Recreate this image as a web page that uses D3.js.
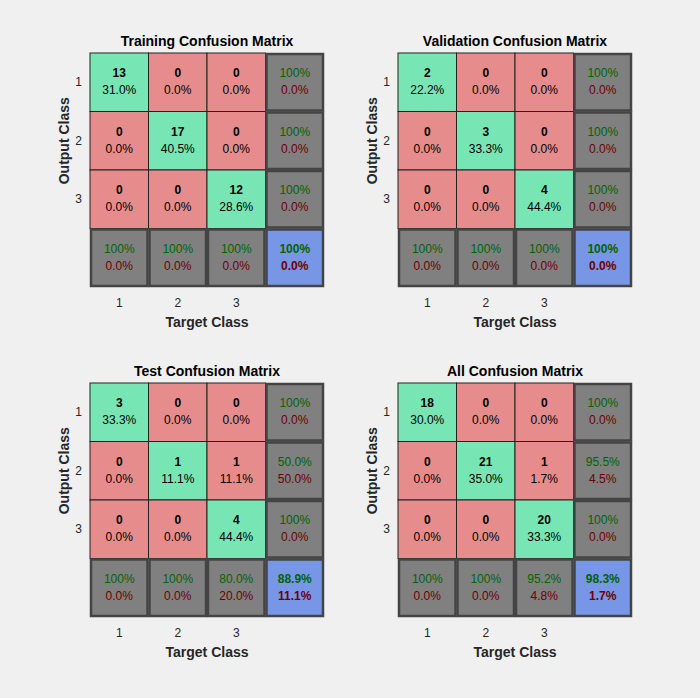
<!DOCTYPE html>
<html><head><meta charset="utf-8">
<script src="https://cdn.jsdelivr.net/npm/d3@7"></script>
<style>body{margin:0;background:#f0f0f0;font-family:"Liberation Sans",Arial,sans-serif}</style>
</head><body><svg id="c" width="700" height="698"></svg>
<script>
const titles = ["Training Confusion Matrix","Validation Confusion Matrix","Test Confusion Matrix","All Confusion Matrix"];
const classes = ["1","2","3"];
const trainingCounts = [[13,0,0],[0,17,0],[0,0,12]];
const validationCounts = [[2,0,0],[0,3,0],[0,0,4]];
const testCounts = [[3,0,0],[0,1,1],[0,0,4]];
const allCounts = [[18,0,0],[0,21,1],[0,0,20]];
const matrices = [trainingCounts, validationCounts, testCounts, allCounts];
const origins = [[90,53],[398,53],[90,383],[398,383]];

const svg = d3.select("#c");
const size = 234;
const fmt = v => (v*100).toFixed(1) + "%";
const pct = v => v === 1 ? "100%" : fmt(v);
const COL = {green:"#78e6b4", red:"#e68c8c", gray:"#808080", blue:"#7896e6"};

matrices.forEach((m, k) => {
  const [ox, oy] = origins[k];
  const g = svg.append("g").attr("transform", `translate(${ox},${oy})`);
  const idx = [0,1,2,3];
  const x = d3.scaleBand().domain(idx).range([0,size]);
  const y = d3.scaleBand().domain(idx).range([0,size]);
  const total = d3.sum(m.flat());
  const cells = [];
  for (let r=0;r<3;r++) for (let c=0;c<3;c++) cells.push({r,c,v:m[r][c]});
  // cells
  cells.forEach(d => {
    g.append("rect").attr("x",x(d.c)).attr("y",y(d.r)).attr("width",x.bandwidth()).attr("height",y.bandwidth())
      .attr("fill", d.r===d.c?COL.green:COL.red).attr("stroke","#222").attr("stroke-width",1);
    const cx = x(d.c)+x.bandwidth()/2, cy = y(d.r)+y.bandwidth()/2;
    g.append("text").attr("x",cx).attr("y",cy-5).attr("text-anchor","middle").attr("font-size",12).attr("font-weight","bold").text(d.v);
    g.append("text").attr("x",cx).attr("y",cy+12).attr("text-anchor","middle").attr("font-size",12).text(fmt(d.v/total));
  });
  // summaries
  const sumCell = (r,c,ratio,fill,bold) => {
    g.append("rect").attr("x",x(c)+1).attr("y",y(r)+1).attr("width",x.bandwidth()-2).attr("height",y.bandwidth()-2)
      .attr("fill",fill).attr("stroke","#444").attr("stroke-width",2.5);
    const cx = x(c)+x.bandwidth()/2, cy = y(r)+y.bandwidth()/2;
    g.append("text").attr("x",cx).attr("y",cy-5).attr("text-anchor","middle").attr("font-size",12).attr("fill","#006400").attr("font-weight",bold?"bold":null).text(pct(ratio));
    g.append("text").attr("x",cx).attr("y",cy+12).attr("text-anchor","middle").attr("font-size",12).attr("fill","#6e0000").attr("font-weight",bold?"bold":null).text(fmt(1-ratio));
  };
  for (let r=0;r<3;r++){ const s=d3.sum(m[r]); sumCell(r,3,m[r][r]/s,COL.gray,false); }
  for (let c=0;c<3;c++){ const s=d3.sum(m,row=>row[c]); sumCell(3,c,m[c][c]/s,COL.gray,false); }
  const diag = d3.sum([0,1,2],i=>m[i][i]);
  sumCell(3,3,diag/total,COL.blue,true);
  // ticks
  classes.forEach((t,i) => {
    g.append("text").attr("x",x(i)+x.bandwidth()/2).attr("y",size+20).attr("text-anchor","middle").attr("font-size",12).attr("fill","#262626").text(t);
    g.append("text").attr("x",-8).attr("y",y(i)+y.bandwidth()/2+4).attr("text-anchor","end").attr("font-size",12).attr("fill","#262626").text(t);
  });
  g.append("text").attr("x",size/2).attr("y",-7).attr("text-anchor","middle").attr("font-size",14).attr("font-weight","bold").text(titles[k]);
  g.append("text").attr("x",size/2).attr("y",size+40).attr("text-anchor","middle").attr("font-size",14).attr("font-weight","bold").attr("fill","#262626").text("Target Class");
  g.append("text").attr("transform",`translate(-21,${size*3/8}) rotate(-90)`).attr("text-anchor","middle").attr("font-size",14).attr("font-weight","bold").attr("fill","#262626").text("Output Class");
});
</script></body></html>
